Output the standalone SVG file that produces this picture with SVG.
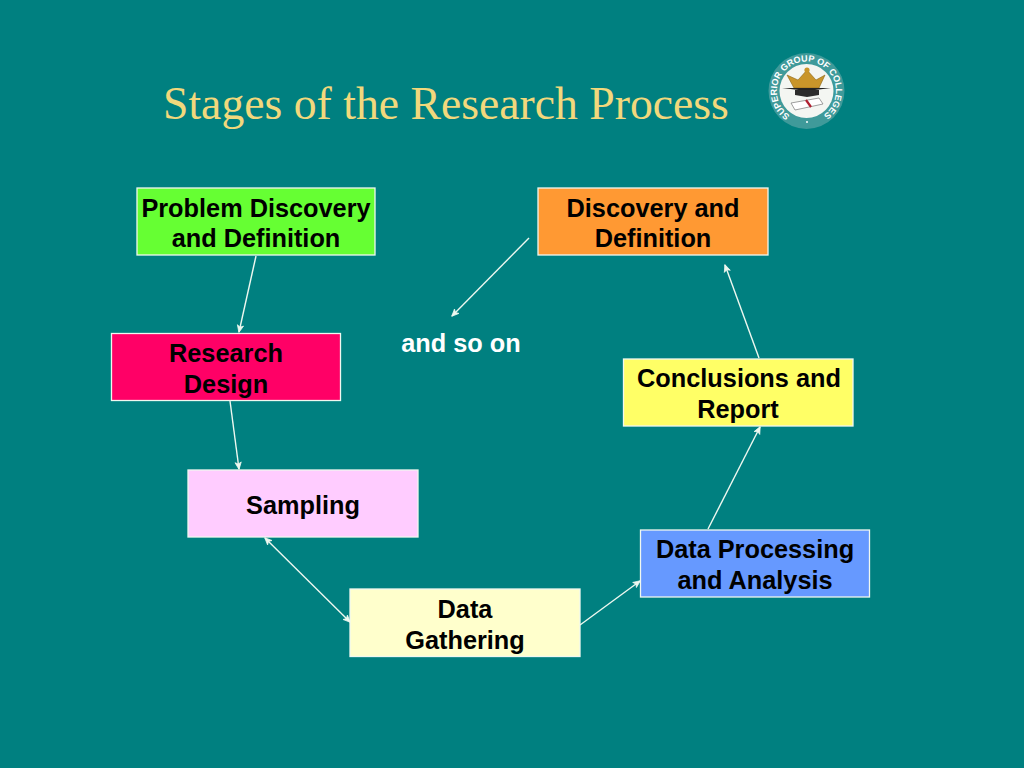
<svg xmlns="http://www.w3.org/2000/svg" xmlns:xlink="http://www.w3.org/1999/xlink" width="1024" height="768" viewBox="0 0 1024 768">
<style>
.box{stroke:#f0f8f0;stroke-width:1.3}
.lbl{font-family:"Liberation Sans",Arial,sans-serif;font-weight:700;font-size:25.3px;fill:#000;text-anchor:middle}
.wht{fill:#fff}
.title{font-family:"Liberation Serif","Times New Roman",serif;font-size:45.7px;fill:#f2d87c}
.con{fill:none;stroke:#eef8f0;stroke-width:1.4}
.logo{font-family:"Liberation Sans",Arial,sans-serif;font-weight:700;font-size:9px;fill:#fff}
</style>
<defs>
<marker id="a" markerUnits="userSpaceOnUse" markerWidth="9" markerHeight="9" refX="8.500" refY="5" orient="auto-start-reverse" viewBox="0 0 10 10">
<path d="M1 1.500L9 5L1 8.500L3 5Z" fill="#eef8f0" stroke="#eef8f0" stroke-width=".8"/>
</marker>
<path id="ring" d="M790 115.500A29.500 29.500 0 1 1 811.600 120"/>
</defs>
<rect width="1024" height="768" fill="#008080"/>
<text class="title" x="163" y="119">Stages of the Research Process</text>
<g id="logo">
<circle cx="806.500" cy="91" r="38" fill="#3f9a9a"/>
<circle cx="806.500" cy="91" r="27" fill="#f4f6f2"/>
<text class="logo"><textPath xlink:href="#ring">SUPERIOR GROUP OF COLLEGES</textPath></text>
<circle cx="807" cy="122" r="1" fill="#fff"/>
<path d="M787 75L794 88H819L825 75L816 80L807 70L798 80Z" fill="#c9952a" stroke="#8a6418" stroke-width=".6"/>
<circle cx="807" cy="70" r="2.600" fill="#c9952a"/>
<path d="M782 88H831L807 91Z" fill="#222"/>
<path d="M795 90H819V95L807 97L795 95Z" fill="#2c2c2c"/>
<path d="M791 103L819 98L823 104L795 110Z" fill="#fff" stroke="#777" stroke-width=".7"/>
<path d="M806 100L811 107" stroke="#b02030" stroke-width="2.200"/>
</g>
<g id="connectors">
<line class="con" x1="256" y1="256" x2="239" y2="332" marker-end="url(#a)"/>
<line class="con" x1="230" y1="401" x2="239" y2="469" marker-end="url(#a)"/>
<line class="con" x1="265" y1="538" x2="350" y2="622" marker-start="url(#a)" marker-end="url(#a)"/>
<line class="con" x1="580" y1="625" x2="640" y2="581" marker-end="url(#a)"/>
<line class="con" x1="708" y1="529" x2="760" y2="427" marker-end="url(#a)"/>
<line class="con" x1="759" y1="358" x2="725" y2="265" marker-end="url(#a)"/>
<line class="con" x1="529" y1="238" x2="452" y2="316" marker-end="url(#a)"/>
</g>
<g id="problem"><rect class="box" x="137" y="188" width="238" height="67" fill="#66ff33"/><text class="lbl" x="256" y="217">Problem Discovery</text><text class="lbl" x="256" y="247">and Definition</text></g>
<g id="discovery"><rect class="box" x="538" y="188" width="230" height="67" fill="#ff9933"/><text class="lbl" x="653" y="217">Discovery and</text><text class="lbl" x="653" y="247">Definition</text></g>
<g id="design"><rect class="box" x="111.500" y="333.500" width="229" height="67" fill="#ff0066"/><text class="lbl" x="226" y="362">Research</text><text class="lbl" x="226" y="393">Design</text></g>
<g id="soon"><text class="lbl wht" x="461" y="352">and so on</text></g>
<g id="conclusions"><rect class="box" x="623.500" y="359" width="229.500" height="67" fill="#ffff66"/><text class="lbl" x="739" y="387">Conclusions and</text><text class="lbl" x="738" y="418">Report</text></g>
<g id="sampling"><rect class="box" x="188" y="470" width="230" height="67" fill="#ffccff"/><text class="lbl" x="303" y="514">Sampling</text></g>
<g id="processing"><rect class="box" x="640.500" y="530" width="229" height="67" fill="#6699ff"/><text class="lbl" x="755" y="558">Data Processing</text><text class="lbl" x="755" y="589">and Analysis</text></g>
<g id="gathering"><rect class="box" x="350" y="589" width="230" height="67.500" fill="#ffffcc"/><text class="lbl" x="465" y="618">Data</text><text class="lbl" x="465" y="649">Gathering</text></g>
</svg>
